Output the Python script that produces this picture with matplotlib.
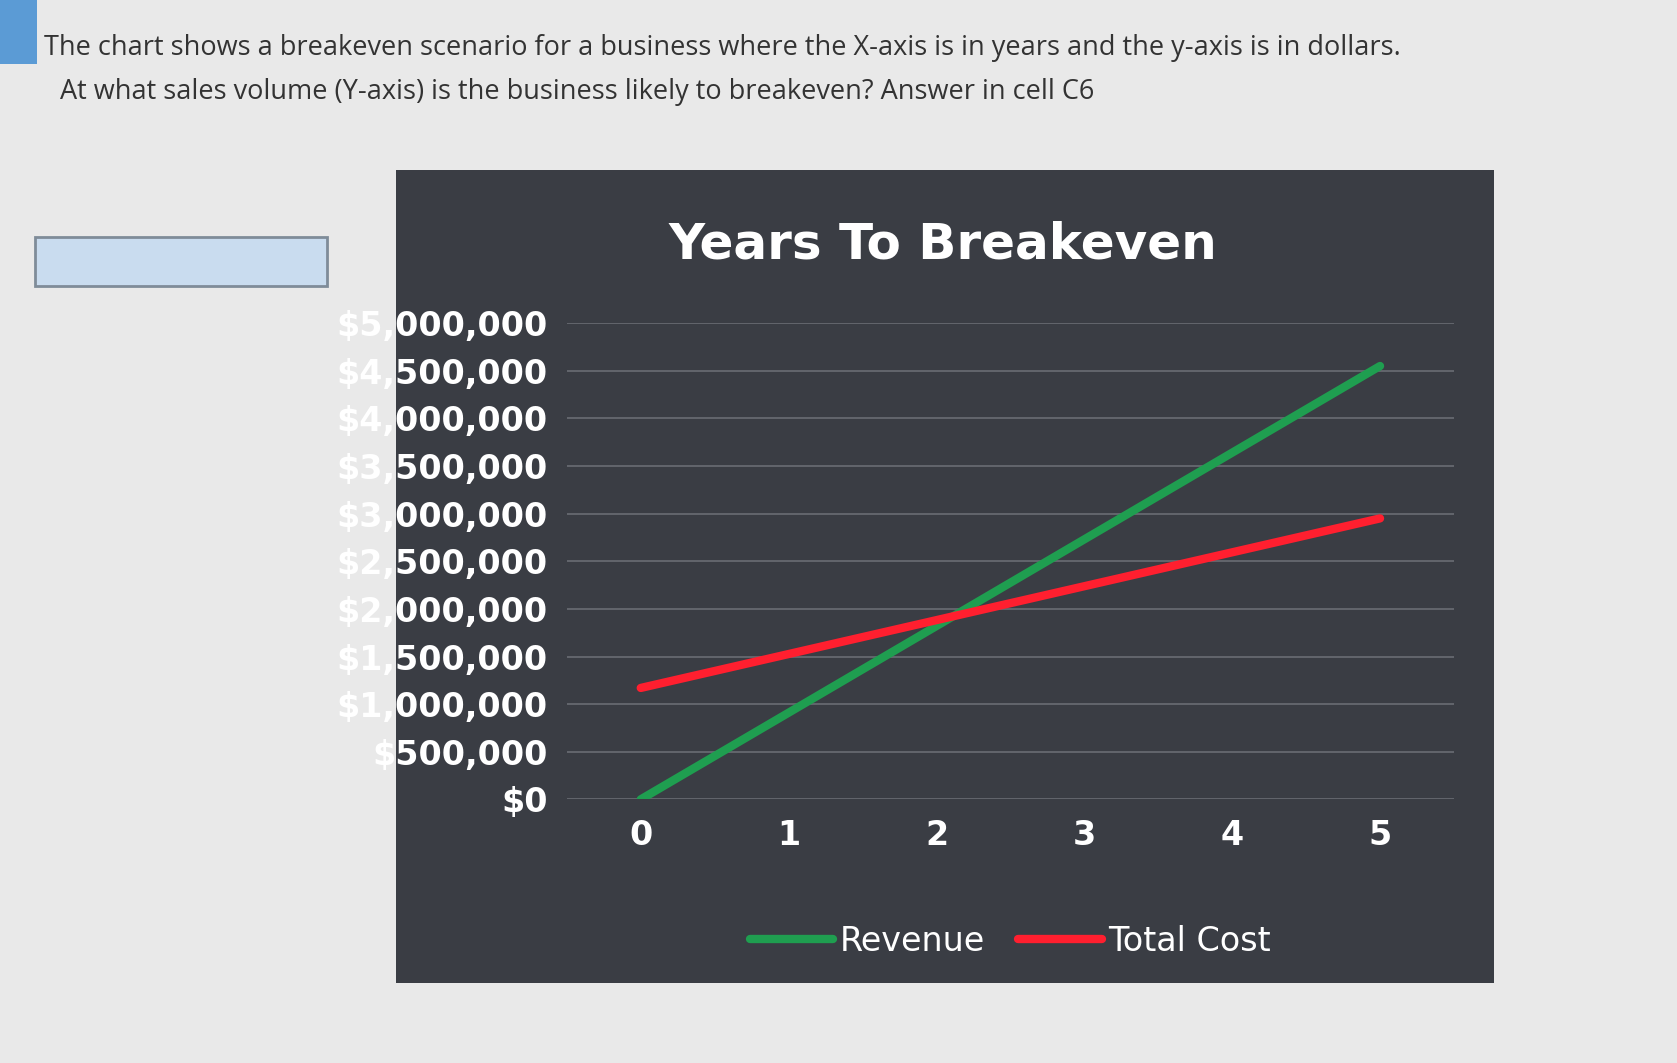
import matplotlib.pyplot as plt
from matplotlib.patches import Rectangle
from matplotlib.ticker import FuncFormatter

years = [0, 1, 2, 3, 4, 5]
revenue = [0, 910000, 1820000, 2730000, 3640000, 4550000]
total_cost = [1170000, 1526000, 1882000, 2238000, 2594000, 2950000]

narrow = ["Liberation Sans Narrow", "DejaVu Sans"]

fig = plt.figure(figsize=(16.77, 10.63), dpi=100)
fig.patch.set_facecolor("#e9e9e9")

# sheet decorations
fig.patches.append(Rectangle((0, 0.94), 0.022, 0.06, transform=fig.transFigure,
                             facecolor="#5b9bd5", edgecolor="none", zorder=-5))
fig.patches.append(Rectangle((0.021, 0.731), 0.174, 0.046, transform=fig.transFigure,
                             facecolor="#c9dcef", edgecolor="#7f8c99", lw=2, zorder=-5))
fig.text(0.026, 0.955, "The chart shows a breakeven scenario for a business where the X-axis is in years and the y-axis is in dollars.",
         fontsize=19.5, color="#333333", family="Open Sans", va="center")
fig.text(0.036, 0.913, "At what sales volume (Y-axis) is the business likely to breakeven? Answer in cell C6",
         fontsize=19.5, color="#333333", family="Open Sans", va="center")

# dark chart panel
fig.patches.append(Rectangle((0.236, 0.075), 0.655, 0.765, transform=fig.transFigure,
                             facecolor="#3a3d44", edgecolor="none", zorder=-5))
fig.text(0.562, 0.77, "Years To Breakeven", fontsize=36, color="white",
         fontweight="bold", ha="center", va="center", family=narrow)

ax = fig.add_axes([0.338, 0.248, 0.529, 0.448])
ax.set_facecolor("none")
ax.plot(years, revenue, color="#1f9e50", lw=6, solid_capstyle="round", label="Revenue")
ax.plot(years, total_cost, color="#ff1f2f", lw=6, solid_capstyle="round", label="Total Cost")
ax.set_xlim(-0.5, 5.5)
ax.set_ylim(0, 5000000)
ax.set_yticks(range(0, 5000001, 500000))
ax.yaxis.set_major_formatter(FuncFormatter(lambda v, p: f"${v:,.0f}"))
ax.set_xticks(years)
ax.grid(axis="y", color="#6a6d73", lw=1.2)
ax.set_axisbelow(True)
for s in ax.spines.values():
    s.set_visible(False)
ax.tick_params(length=0, colors="white", labelsize=24, pad=14)
for t in ax.get_yticklabels() + ax.get_xticklabels():
    t.set_fontweight("bold")
    t.set_family(narrow)
leg = ax.legend(loc="upper center", bbox_to_anchor=(0.5, -0.2), ncol=2, frameon=False,
                prop={"family": narrow, "size": 24}, labelcolor="white",
                handlelength=2.5, columnspacing=1.0, handletextpad=0.2)

fig.savefig("out.png", dpi=100, facecolor=fig.get_facecolor())
